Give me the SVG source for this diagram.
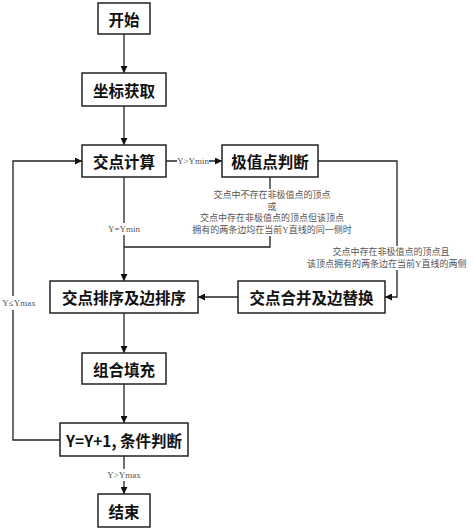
<svg xmlns="http://www.w3.org/2000/svg" width="474" height="529" viewBox="0 0 474 529">
<style>
.box{fill:#fff;stroke:#222;stroke-width:1.5}
.t{font-family:"Noto Sans CJK SC","Liberation Sans",sans-serif;font-size:15.5px;font-weight:bold;fill:#111;text-anchor:middle;dominant-baseline:central}
.c{fill:none;stroke:#222;stroke-width:1.3}
.s{font-family:"Liberation Serif","Noto Sans CJK SC",serif;font-size:9px;fill:#555;text-anchor:middle;dominant-baseline:central}
</style>
<defs>
<marker id="a" viewBox="0 0 10 10" refX="10" refY="5" markerWidth="7" markerHeight="7" markerUnits="userSpaceOnUse" orient="auto"><path d="M0,0 L10,5 L0,10 z" fill="#111"/></marker>
</defs>
<rect width="474" height="529" fill="#fff"/>
<g id="connectors">
<path class="c" d="M124,34 V73" marker-end="url(#a)"/>
<path class="c" d="M124,106 V145" marker-end="url(#a)"/>
<path class="c" d="M166,161 H222" marker-end="url(#a)"/>
<path class="c" d="M124,177 V281" marker-end="url(#a)"/>
<path class="c" d="M270,177 V247 H124"/>
<path class="c" d="M318,161 H397 V297 H385" marker-end="url(#a)"/>
<path class="c" d="M238,297 H198" marker-end="url(#a)"/>
<path class="c" d="M124,313 V353" marker-end="url(#a)"/>
<path class="c" d="M124,384 V423" marker-end="url(#a)"/>
<path class="c" d="M124,456 V494" marker-end="url(#a)"/>
<path class="c" d="M60,440 H13 V161 H82" marker-end="url(#a)"/>
<rect x="177" y="155" width="32" height="12" fill="#fff"/>
<text class="s" x="193" y="161">Y&gt;Ymin</text>
<rect x="107" y="223" width="34" height="12" fill="#fff"/>
<text class="s" x="124" y="229">Y=Ymin</text>
<rect x="190" y="189" width="164" height="47" fill="#fff"/>
<text class="s" x="272" y="195">交点中不存在非极值点的顶点</text>
<text class="s" x="272" y="207">或</text>
<text class="s" x="272" y="218">交点中存在非极值点的顶点但该顶点</text>
<text class="s" x="272" y="230">拥有的两条边均在当前Y直线的同一侧时</text>
<rect x="305" y="246" width="169" height="24" fill="#fff"/>
<text class="s" x="391" y="252">交点中存在非极值点的顶点且</text>
<text class="s" x="307" y="264" style="text-anchor:start">该顶点拥有的两条边在当前Y直线的两侧</text>
<rect x="1" y="296" width="36" height="14" fill="#fff"/>
<text class="s" x="19" y="303">Y≤Ymax</text>
<rect x="107" y="469" width="34" height="12" fill="#fff"/>
<text class="s" x="124" y="475">Y&gt;Ymax</text>
</g>
<g id="n1"><rect class="box" x="98" y="3" width="52" height="31"/><text class="t" x="124" y="18.5">开始</text></g>
<g id="n2"><rect class="box" x="82" y="73" width="84" height="33"/><text class="t" x="124" y="89.5">坐标获取</text></g>
<g id="n3"><rect class="box" x="82" y="145" width="84" height="32"/><text class="t" x="124" y="161">交点计算</text></g>
<g id="n4"><rect class="box" x="222" y="145" width="96" height="32"/><text class="t" x="270" y="161">极值点判断</text></g>
<g id="n5"><rect class="box" x="50" y="281" width="148" height="32"/><text class="t" x="124" y="297">交点排序及边排序</text></g>
<g id="n6"><rect class="box" x="238" y="281" width="147" height="32"/><text class="t" x="311.5" y="297">交点合并及边替换</text></g>
<g id="n7"><rect class="box" x="82" y="353" width="84" height="31"/><text class="t" x="124" y="368.5">组合填充</text></g>
<g id="n8"><rect class="box" x="60" y="423" width="128" height="33"/><text class="t" x="124" y="439.5">Y=Y+1, 条件判断</text></g>
<g id="n9"><rect class="box" x="98" y="494" width="52" height="33"/><text class="t" x="124" y="510.5">结束</text></g>
</svg>
